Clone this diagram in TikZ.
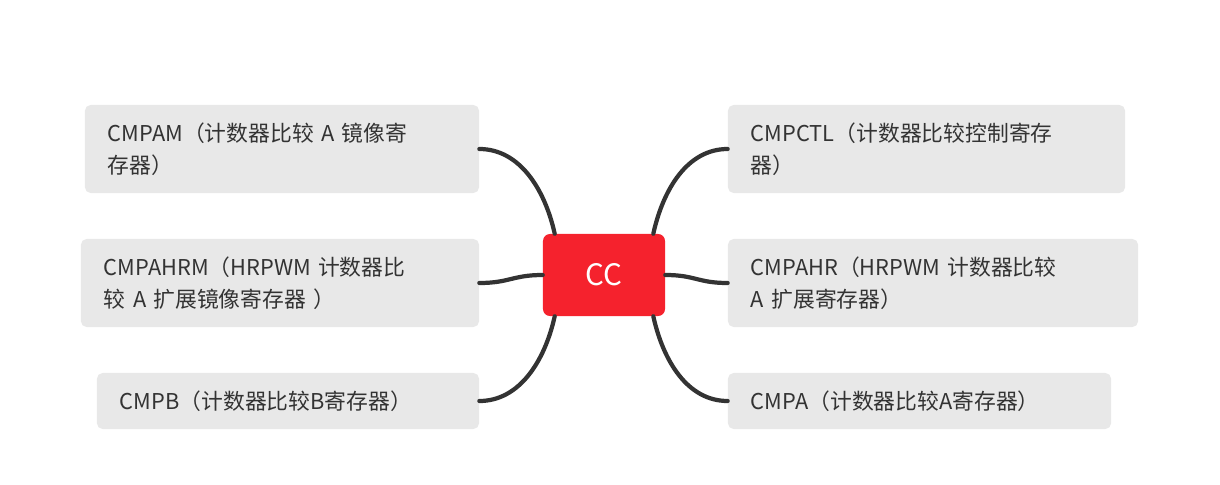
\documentclass[tikz,border=0pt]{standalone}
\usepackage{fontspec}
\setmainfont{Noto Sans CJK SC}
\definecolor{ccred}{HTML}{F5222D}
\definecolor{boxgray}{HTML}{E8E8E8}
\definecolor{linegray}{HTML}{333333}
\tikzset{
  topic/.style={fill=boxgray,rounded corners=4pt,inner xsep=0.575cm,inner ysep=0pt,align=left,
    font=\fontsize{15.5}{22.5}\selectfont,text=linegray},
  link/.style={draw=linegray,line width=3pt,line cap=round}
}
\begin{document}
\begin{tikzpicture}[x=0.025cm,y=-0.025cm]
  \useasboundingbox (0,0) rectangle (1220,485);

  \node[fill=ccred,rounded corners=5pt,minimum width=3.05cm,minimum height=2.05cm,
    text=white,font=\fontsize{21}{24}\selectfont] (cc) at (604,275) {CC};

  % left side
  \node[topic,minimum width=9.85cm,minimum height=2.2cm,text width=8.7cm] (cmpam) at (282,149)
    {CMPAM（计数器比较 A 镜像寄\\存器）};
  \node[topic,minimum width=9.95cm,minimum height=2.2cm,text width=8.8cm] (cmpahrm) at (280,283)
    {CMPAHRM（HRPWM 计数器比\\较 A 扩展镜像寄存器 ）};
  \node[topic,minimum width=9.55cm,minimum height=1.4cm,text width=8.4cm] (cmpb) at (288,401)
    {CMPB（计数器比较B寄存器）};

  % right side
  \node[topic,minimum width=9.925cm,minimum height=2.2cm,text width=8.775cm] (cmpctl) at (926.5,149)
    {CMPCTL（计数器比较控制寄存\\器）};
  \node[topic,minimum width=10.25cm,minimum height=2.2cm,text width=9.1cm] (cmpahr) at (933,283)
    {CMPAHR（HRPWM 计数器比较\\A 扩展寄存器）};
  \node[topic,minimum width=9.575cm,minimum height=1.4cm,text width=8.425cm] (cmpa) at (919.5,401)
    {CMPA（计数器比较A寄存器）};

  \draw[link] ([xshift=0.3cm]cc.north west) .. controls ++(-10,-45) and ++(40,0) .. (cmpam.east);
  \draw[link] (cc.west) .. controls ++(-30,0) and ++(30,0) .. (cmpahrm.east);
  \draw[link] ([xshift=0.3cm]cc.south west) .. controls ++(-10,45) and ++(40,0) .. (cmpb.east);
  \draw[link] ([xshift=-0.3cm]cc.north east) .. controls ++(10,-45) and ++(-40,0) .. (cmpctl.west);
  \draw[link] (cc.east) .. controls ++(30,0) and ++(-30,0) .. (cmpahr.west);
  \draw[link] ([xshift=-0.3cm]cc.south east) .. controls ++(10,45) and ++(-40,0) .. (cmpa.west);
\end{tikzpicture}
\end{document}
